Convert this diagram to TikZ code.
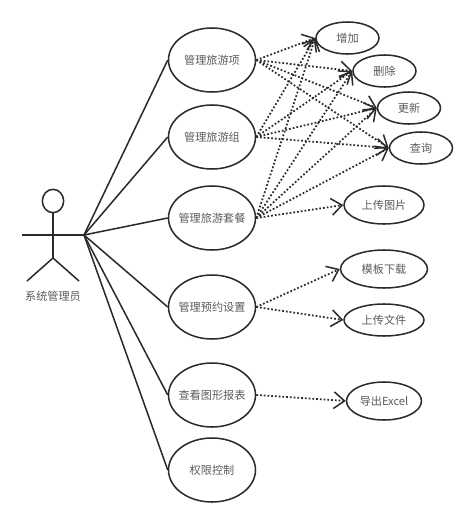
\documentclass[tikz,border=0pt]{standalone}
\usepackage{fontspec}
\setmainfont{Noto Sans CJK SC}
\usepackage{xcolor}
\usetikzlibrary{shapes,arrows.meta,positioning}
\definecolor{labelgray}{HTML}{5A5A5A}
\definecolor{linegray}{HTML}{2B2B2B}
\newcommand{\uclabel}[1]{\makebox[0pt]{#1}}
\tikzset{
  usecase/.style={ellipse,draw=linegray,line width=1.3pt,inner sep=0pt,text=labelgray,font=\fontsize{9.5pt}{11pt}\selectfont},
  bigcase/.style={usecase,minimum width=2.61cm,minimum height=1.92cm},
  smallcase/.style={usecase,minimum width=1.89cm,minimum height=0.96cm},
  widecase/.style={usecase,minimum width=2.4cm,minimum height=1.14cm},
  assoc/.style={draw=linegray,line width=1.3pt},
  depend/.style={draw=linegray,line width=1.5pt,dash pattern=on 1.5pt off 1.7pt,-{Straight Barb[length=3.2mm,width=5mm,line width=1.3pt]}}
}
\begin{document}
\begin{tikzpicture}[x=0.03cm,y=-0.03cm]
\useasboundingbox (0,0) rectangle (474,525);

\coordinate (hip) at (53,258);
\coordinate (handL) at (22,235);
\coordinate (handR) at (84,235);
\coordinate (footL) at (27,281);
\coordinate (footR) at (79,281);

\node[ellipse,draw=linegray,line width=1.3pt,minimum width=0.64cm,minimum height=0.7cm,inner sep=0pt] (head) at (53,201) {};
\node[text=labelgray,font=\fontsize{9.5pt}{11pt}\selectfont] (admin) at (53,296) {系统管理员};

\node[bigcase] (item) at (212,60) {\uclabel{管理旅游项}};
\node[bigcase] (group) at (212,137) {\uclabel{管理旅游组}};
\node[bigcase] (package) at (212,218) {\uclabel{管理旅游套餐}};
\node[bigcase] (order) at (212,307) {\uclabel{管理预约设置}};
\node[bigcase] (report) at (212,395) {\uclabel{查看图形报表}};
\node[bigcase] (auth) at (212,470) {\uclabel{权限控制}};

\node[smallcase] (add) at (347.5,38) {\uclabel{增加}};
\node[smallcase] (del) at (384.5,71) {\uclabel{删除}};
\node[smallcase] (upd) at (409,108) {\uclabel{更新}};
\node[smallcase] (qry) at (421,148) {\uclabel{查询}};
\node[widecase] (pic) at (384,205) {\uclabel{上传图片}};
\node[usecase,minimum width=2.61cm,minimum height=1.14cm] (tpl) at (384,269) {\uclabel{模板下载}};
\node[smallcase,minimum width=2.4cm] (file) at (384,320) {\uclabel{上传文件}};
\node[widecase,minimum width=2.25cm] (excel) at (384,401) {\uclabel{导出Excel}};

% actor
\draw[assoc] (head) -- (hip);
\draw[assoc] (handL) -- (handR);
\draw[assoc] (footL) -- (hip) -- (footR);

% associations
\draw[assoc] (handR) -- (item.west);
\draw[assoc] (handR) -- (group.west);
\draw[assoc] (handR) -- (package.west);
\draw[assoc] (handR) -- (order.west);
\draw[assoc] (handR) -- (report.west);
\draw[assoc] (handR) -- (auth.west);

% dependencies
\draw[depend] (item.east) -- (add.west);
\draw[depend] (item.east) -- (del.west);
\draw[depend] (item.east) -- (upd.west);
\draw[depend] (item.east) -- (qry.west);

\draw[depend] (group.east) -- (add.west);
\draw[depend] (group.east) -- (del.west);
\draw[depend] (group.east) -- (upd.west);
\draw[depend] (group.east) -- (qry.west);

\draw[depend] (package.east) -- (add.west);
\draw[depend] (package.east) -- (del.west);
\draw[depend] (package.east) -- (upd.west);
\draw[depend] (package.east) -- (qry.west);
\draw[depend] (package.east) -- (pic.west);

\draw[depend] (order.east) -- (tpl.west);
\draw[depend] (order.east) -- (file.west);
\draw[depend] (report.east) -- (excel.west);
\end{tikzpicture}
\end{document}
